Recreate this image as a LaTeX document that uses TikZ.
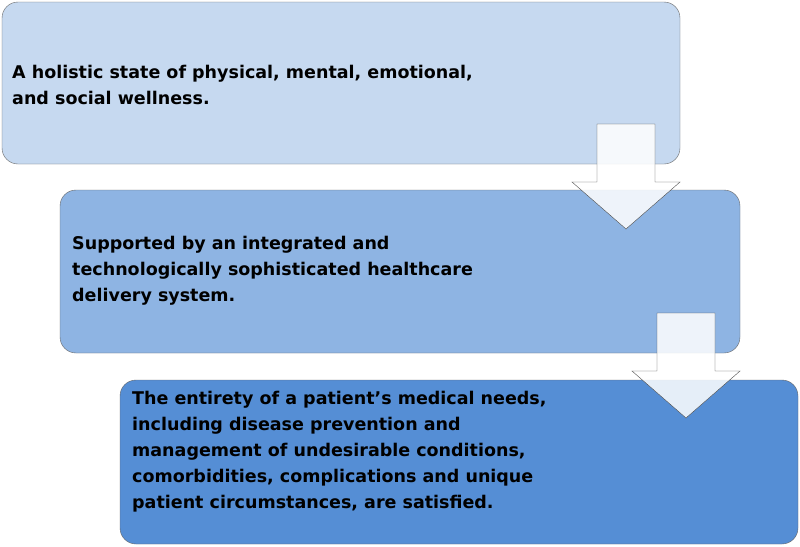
\documentclass[tikz,border=0pt]{standalone}
\usepackage{fontspec}
\setmainfont{DejaVu Sans}
\begin{document}
\begin{tikzpicture}[x=1pt,y=-1pt,
  every node/.style={anchor=west, align=left, font=\fontsize{17.5}{26}\selectfont\bfseries, inner sep=0pt},
  stage/.style={draw=black!60, rounded corners=16pt},
  downarrow/.style={draw=black!70, fill=white, fill opacity=0.85, line join=miter}
]
\useasboundingbox (0,0) rectangle (800,546);
% boxes
\draw[stage, fill={rgb,255:red,198;green,217;blue,240}] (2,2) rectangle (680,164);
\draw[stage, fill={rgb,255:red,142;green,180;blue,227}] (60,190) rectangle (740,353);
\draw[stage, fill={rgb,255:red,85;green,142;blue,213}] (120,380) rectangle (798,544);
% arrows
\draw[downarrow] (597,124) -- (655,124) -- (655,182) -- (680,182) -- (626,229) -- (572,182) -- (597,182) -- cycle;
\draw[downarrow] (657,313) -- (715,313) -- (715,371) -- (740,371) -- (686,418) -- (632,371) -- (657,371) -- cycle;
% texts
\node (health) at (12,85) {A holistic state of physical, mental, emotional,\\and social wellness.};
\node (system) at (72,271) {Supported by an integrated and\\technologically sophisticated healthcare\\delivery system.};
\node (needs) at (132,452) {The entirety of a patient’s medical needs,\\including disease prevention and\\management of undesirable conditions,\\comorbidities, complications and unique\\patient circumstances, are satisfied.};
\end{tikzpicture}
\end{document}
